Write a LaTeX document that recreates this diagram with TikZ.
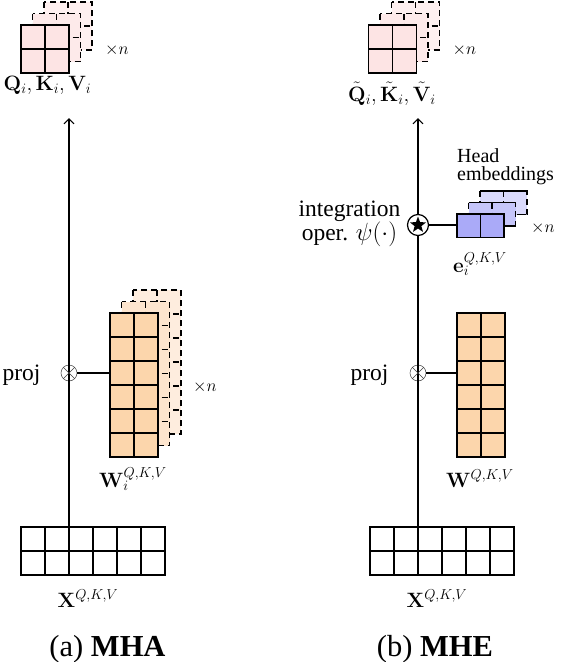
\documentclass[tikz,border=0pt]{standalone}
\usepackage[no-math]{fontspec}
\setmainfont{Liberation Serif}
\usetikzlibrary{arrows.meta,shapes.geometric}
\definecolor{qf}{RGB}{253,228,228}
\definecolor{qb1}{RGB}{253,234,234}
\definecolor{qb2}{RGB}{254,240,240}
\definecolor{wf}{RGB}{252,214,172}
\definecolor{wb1}{RGB}{253,229,206}
\definecolor{wb2}{RGB}{254,237,222}
\definecolor{ef}{RGB}{170,170,248}
\definecolor{eb1}{RGB}{198,198,250}
\definecolor{eb2}{RGB}{218,218,252}
% x y cols rows cellw cellh style
\newcommand\gridmat[7]{%
  \path[#7] (#1,#2) rectangle ({#1+#3*#5},{#2+#4*#6});
  \pgfmathtruncatemacro\gmc{#3-1}%
  \pgfmathtruncatemacro\gmr{#4-1}%
  \foreach \k in {1,...,\gmc}{\draw[#7,fill=none] ({#1+\k*#5},#2) -- ({#1+\k*#5},{#2+#4*#6});}
  \foreach \k in {1,...,\gmr}{\draw[#7,fill=none] (#1,{#2+\k*#6}) -- ({#1+#3*#5},{#2+\k*#6});}
}
\tikzset{
  front/.style={draw=black,line width=1.1pt},
  back/.style={draw=black,line width=1.1pt,dash pattern=on 6pt off 4pt},
  txt/.style={font=\fontsize{23.5}{19}\selectfont},
  stxt/.style={font=\fontsize{20}{18}\selectfont},
  mlbl/.style={font=\fontsize{20}{24}\selectfont},
  tn/.style={font=\fontsize{17.5}{21}\selectfont},
  capfont/.style={font=\fontsize{30.5}{34}\selectfont},
  ghost/.style={inner sep=0pt,outer sep=0pt,anchor=north west},
  conn/.style={line width=1.1pt},
  arr/.style={line width=1.1pt,-{Straight Barb[length=5pt,width=10pt,line width=1.1pt]}},
  otimes/.style={circle,draw=black!75,line width=0.5pt,minimum size=16pt,inner sep=0pt},
}
\begin{document}
\begin{tikzpicture}[x=1pt,y=-1pt]
\useasboundingbox (0,0) rectangle (567,662);

%%%%%%%%%%%%%%%% (a) MHA
% input X
\gridmat{21}{527}{6}{2}{24}{24}{front}
\node[ghost,minimum width=144pt,minimum height=48pt] (Xa) at (21,527) {};
% output Q,K,V
\gridmat{44}{2}{2}{2}{24}{24}{back,fill=qb2}
\gridmat{32.5}{13.5}{2}{2}{24}{24}{back,fill=qb1}
\gridmat{21}{25}{2}{2}{24}{24}{front,fill=qf}
% W_i
\gridmat{133}{290}{2}{6}{24}{24}{back,fill=wb2}
\gridmat{121.5}{301.5}{2}{6}{24}{24}{back,fill=wb1}
\gridmat{110}{313}{2}{6}{24}{24}{front,fill=wf}
\node[ghost,minimum width=48pt,minimum height=144pt] (Wa) at (110,313) {};

\coordinate (tipa) at (69,118);
\node[otimes] (pa) at (69,373) {};
\draw[arr] (Xa.north -| pa) -- (tipa);
\draw[line width=0.5pt,black!75] (pa.north west) -- (pa.south east) (pa.north east) -- (pa.south west);
\draw[conn] (pa) -- (pa -| Wa.west);

\node[txt,anchor=base] (proja) at (21.5,380) {proj};
\node[mlbl,anchor=base] (Qal) at (47.5,90.5) {$\mathbf{Q}_i,\mathbf{K}_i,\mathbf{V}_i$};
\node[tn] (na1) at (117,50) {$\times n$};
\node[tn] (na2) at (205,387) {$\times n$};
\node[mlbl,anchor=base] (Wal) at (133,487) {$\mathbf{W}_i^{Q,K,V}$};
\node[mlbl,anchor=base] (Xal) at (88,607) {$\mathbf{X}^{Q,K,V}$};
\node[capfont,anchor=base] (capa) at (107.5,656) {(a) \textbf{MHA}};

%%%%%%%%%%%%%%%% (b) MHE
\gridmat{370}{527}{6}{2}{24}{24}{front}
\node[ghost,minimum width=144pt,minimum height=48pt] (Xb) at (370,527) {};
\gridmat{391.5}{2}{2}{2}{24}{24}{back,fill=qb2}
\gridmat{380}{13.5}{2}{2}{24}{24}{back,fill=qb1}
\gridmat{368.5}{25}{2}{2}{24}{24}{front,fill=qf}
% W
\gridmat{457}{313}{2}{6}{24}{24}{front,fill=wf}
\node[ghost,minimum width=48pt,minimum height=144pt] (Wb) at (457,313) {};
% head embeddings
\gridmat{480}{191}{2}{1}{23.5}{23.5}{back,fill=eb2}
\gridmat{468.5}{202.5}{2}{1}{23.5}{23.5}{back,fill=eb1}
\gridmat{457}{214}{2}{1}{23.5}{23.5}{front,fill=ef}
\node[ghost,minimum width=47pt,minimum height=23.5pt] (Eb) at (457,214) {};

\coordinate (tipb) at (418,118);
\node[otimes] (pb) at (418,373) {};
\draw[arr] (Xb.north -| pb) -- (tipb);
\draw[line width=0.5pt,black!75] (pb.north west) -- (pb.south east) (pb.north east) -- (pb.south west);
\draw[conn] (pb) -- (pb -| Wb.west);

\node[circle,draw,line width=1.2pt,fill=white,minimum size=21pt,inner sep=0pt] (sb) at (418,225) {};
\node[star,star points=5,star point ratio=2.4,fill=black,minimum size=17pt,inner sep=0pt] (stb) at (sb) {};
\draw[conn] (sb) -- (sb -| Eb.west);

\node[txt,anchor=base] (projb) at (369.5,380) {proj};
\node[txt,align=center,anchor=north,inner sep=0pt] (intl) at (349.5,200.5) {integration\\oper. $\psi(\cdot)$};
\node[stxt,align=left,anchor=north west,inner sep=0pt] (head) at (457,148) {Head\\embeddings};
\node[mlbl,anchor=base] (Qbl) at (392,101) {$\tilde{\mathbf{Q}}_i,\tilde{\mathbf{K}}_i,\tilde{\mathbf{V}}_i$};
\node[tn] (nb1) at (464.5,50) {$\times n$};
\node[tn] (nb2) at (543,228) {$\times n$};
\node[mlbl,anchor=base] (el) at (480,272) {$\mathbf{e}_i^{Q,K,V}$};
\node[mlbl,anchor=base] (Wbl) at (480,487) {$\mathbf{W}^{Q,K,V}$};
\node[mlbl,anchor=base] (Xbl) at (437,607) {$\mathbf{X}^{Q,K,V}$};
\node[capfont,anchor=base] (capb) at (435,656) {(b) \textbf{MHE}};
\end{tikzpicture}
\end{document}
